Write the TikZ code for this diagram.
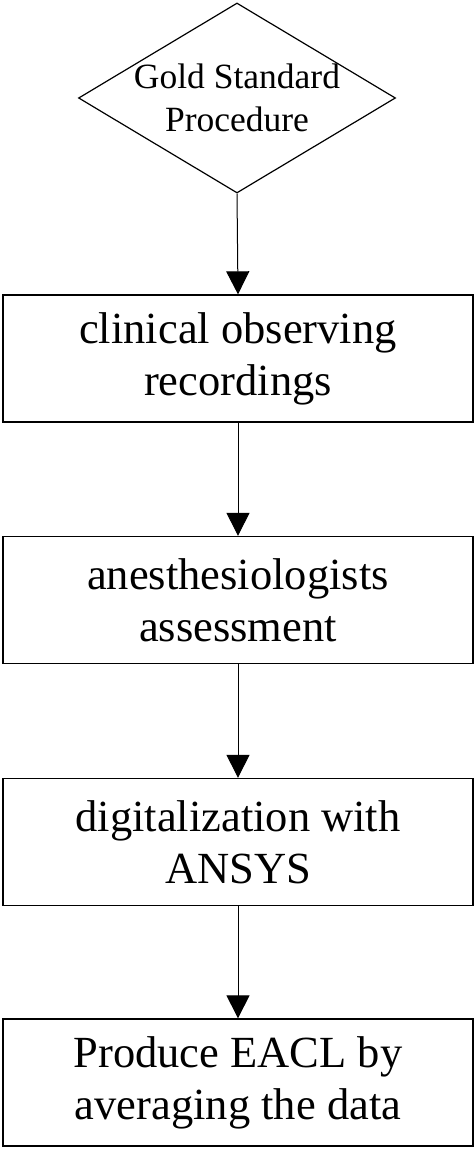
\documentclass[tikz,border=0pt]{standalone}
\usepackage{fontspec}
\setmainfont{Liberation Serif}
\usepackage{tikz}
\usetikzlibrary{arrows.meta,shapes.geometric}
\definecolor{fink}{HTML}{000000}
\tikzset{
  fdiam/.style={
    diamond, draw=fink, line width=1.2pt, inner sep=0pt, aspect=1.668,
    minimum width=317pt, minimum height=190pt},
  ftext/.style={text=fink, align=center,
    font=\fontsize{35.5}{43}\selectfont},
  fbox/.style={
    draw=fink, line width=1.3pt, text=fink, align=center,
    minimum width=470pt, minimum height=127pt, inner sep=0pt,
    font=\fontsize{44.5}{52}\selectfont},
  fflow/.style={-{Triangle[length=23pt,width=23pt]}, draw=fink,
    line width=1pt},
}
\begin{document}
\begin{tikzpicture}[x=1pt,y=-1pt]
\useasboundingbox (0,0) rectangle (474,1150);

\node[fdiam] (gold) at (237,98) {};
\node[ftext] (goldtxt) at (gold.center) {Gold Standard\\Procedure};

\node[fbox] (s1) at (238,358.5) {clinical observing\\recordings};
\node[fbox] (s2) at (238,600) {anesthesiologists\\assessment};
\node[fbox] (s3) at (238,842) {digitalization with\\ANSYS};
\node[fbox] (s4) at (238,1082.5) {Produce EACL by\\averaging the data};

\foreach \a/\b in {gold/s1, s1/s2, s2/s3, s3/s4}
  \draw[fflow] (\a.south) -- (\b.north);

\end{tikzpicture}
\end{document}
